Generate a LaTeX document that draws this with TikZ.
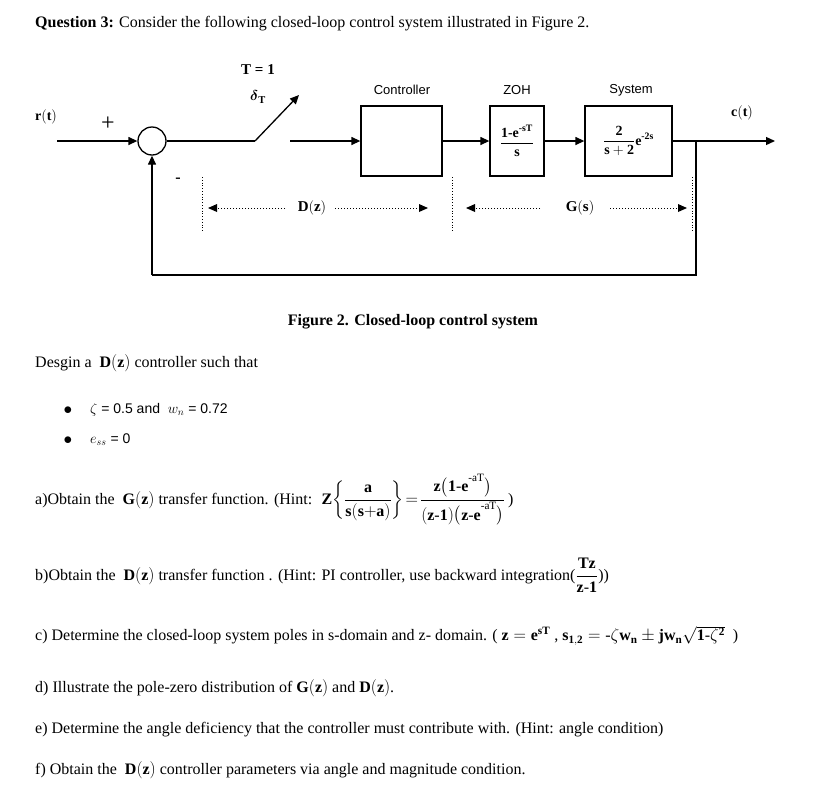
\documentclass[tikz,border=0pt]{standalone}
\usepackage{fontspec}
\usepackage{amsmath,amssymb}
\setmainfont{Liberation Serif}
\newfontfamily\sansf{Liberation Sans}
\usetikzlibrary{arrows.meta}
\begin{document}
\begin{tikzpicture}[x=1pt,y=-1pt,
  ln/.style={line width=1.3pt},
  arr/.style={ln,-{Triangle[length=9pt,width=8pt]}},
  blk/.style={draw,line width=1.3pt,minimum width=#1,minimum height=70pt,inner sep=0pt},
  dot/.style={dotted,line width=0.8pt},
  darr/.style={dotted,line width=1pt,-{Triangle[length=9pt,width=8pt,line width=0pt,fill=black]}},
  lab/.style={font=\sansf\fontsize{13}{15}\selectfont},
  tx/.style={anchor=west,inner sep=0pt,font=\fontsize{16}{18}\selectfont}]
\useasboundingbox (0,0) rectangle (831,801);
\node[tx] (q) at (35,24) {\textbf{Question 3:} Consider the following closed-loop control system illustrated in Figure 2.};
% diagram
\coordinate (rin) at (57,141);
\node[draw,circle,line width=1.3pt,minimum size=28pt,inner sep=0pt] (sum) at (152,141) {};
\node[font=\bfseries\fontsize{14}{16}\selectfont] (rt) at (46,117) {r$(\mathbf t)$};
\node[font=\fontsize{24}{24}\selectfont] (plus) at (108,124) {+};
\node[font=\bfseries\fontsize{16}{16}\selectfont] (minus) at (178,180) {-};
\draw[arr] (rin) -- (sum);
\coordinate (s1) at (255,141);
\coordinate (s2) at (299,95);
\draw[ln] (sum) -- (s1);
\draw[arr] (s1) -- (s2);
\node[font=\bfseries\fontsize{15}{16}\selectfont] (T1) at (258,70) {T = 1};
\node[font=\bfseries\fontsize{15}{16}\selectfont] (dT) at (258,97) {$\boldsymbol\delta_{\mathbf T}$};
\coordinate (s3) at (290,141);
\node[blk=81pt] (ctl) at (401.5,141) {};
\node[blk=54pt] (zoh) at (517,141) {\bfseries\fontsize{14}{15}\selectfont$\dfrac{\mathbf{1\text{-}e}^{\text{-sT}}}{\mathbf s}$};
\node[blk=87pt] (sys) at (628.5,141) {\bfseries\fontsize{14}{15}\selectfont$\dfrac{\mathbf 2}{\mathbf{s+2}}\mathbf e^{\text{-2s}}$};
\node[lab] (lc) at (402,90) {Controller};
\node[lab] (lz) at (517,90) {ZOH};
\node[lab] (ls) at (631,90) {System};
\draw[arr] (s3) -- (ctl);
\draw[arr] (ctl) -- (zoh);
\draw[arr] (zoh) -- (sys);
\coordinate (out) at (775,141);
\coordinate (br) at (696,141);
\coordinate (b1) at (696,275);
\coordinate (b2) at (152,275);
\draw[arr] (sys) -- (out);
\node[font=\bfseries\fontsize{14}{16}\selectfont] (ct) at (742,113) {c$(\mathbf t)$};
\draw[ln] (br) -- (b1) -- (b2);
\draw[arr] (b2) -- (sum);
% dotted markers
\coordinate (v1a) at (202,177); \coordinate (v1b) at (202,232);
\coordinate (v2a) at (452,177); \coordinate (v2b) at (452,232);
\coordinate (v3a) at (692,177); \coordinate (v3b) at (692,232);
\draw[dot] (v1a) -- (v1b); \draw[dot] (v2a) -- (v2b); \draw[dot] (v3a) -- (v3b);
\node[font=\bfseries\fontsize{15}{16}\selectfont] (Dz) at (312,208) {D$(\mathbf z)$};
\node[font=\bfseries\fontsize{15}{16}\selectfont] (Gs) at (580,208) {G$(\mathbf s)$};
\coordinate (d1) at (208,208); \coordinate (d2) at (285,208);
\coordinate (d3) at (335,208); \coordinate (d4) at (428,208);
\coordinate (g1) at (466,208); \coordinate (g2) at (540,208);
\coordinate (g3) at (610,208); \coordinate (g4) at (687,208);
\draw[darr] (d2) -- (d1); \draw[darr] (d3) -- (d4);
\draw[darr] (g2) -- (g1); \draw[darr] (g3) -- (g4);
\node[font=\bfseries\fontsize{16}{18}\selectfont] (cap) at (413,322) {Figure 2. Closed-loop control system};
% text
\node[tx] (t1) at (35,363) {Desgin a \ $\mathbf{D(z)}$ controller such that};
\node[font=\fontsize{16}{16}\selectfont] (bu1) at (68,411) {$\bullet$};
\node[font=\fontsize{16}{16}\selectfont] (bu2) at (68,441) {$\bullet$};
\node[tx,font=\sansf\fontsize{14}{16}\selectfont] (c1) at (90,410) {$\zeta$ = 0.5 and \ $w_n$ = 0.72};
\node[tx,font=\sansf\fontsize{14}{16}\selectfont] (c2) at (90,440) {$e_{ss}$ = 0};
\node[tx] (ta) at (35,500) {a)Obtain the \ $\mathbf{G(z)}$ transfer function. (Hint: \ $\mathbf Z\!\left\{\dfrac{\mathbf a}{\mathbf{s(s{+}a)}}\right\}\!=\!\dfrac{\mathbf{z\big(1\text{-}e}^{\text{-aT}}\mathbf{\big)}}{\mathbf{(z\text{-}1)\big(z\text{-}e}^{\text{-aT}}\mathbf{\big)}}\,$)};
\node[tx] (tb) at (35,575) {b)Obtain the \ $\mathbf{D(z)}$ transfer function . (Hint: PI controller, use backward integration($\dfrac{\mathbf{Tz}}{\mathbf{z\text{-}1}}$))};
\node[tx] (tc) at (35,636) {c) Determine the closed-loop system poles in s-domain and z- domain. ( $\mathbf{z = e^{sT}}$ , $\mathbf{s_{1,2}} = \mathbf{\text{-}\zeta w_n \pm j w_n\sqrt{1\text{-}\zeta^2}}$ \ )};
\node[tx] (td) at (35,688) {d) Illustrate the pole-zero distribution of $\mathbf{G(z)}$ and $\mathbf{D(z)}$.};
\node[tx] (te) at (35,730) {e) Determine the angle deficiency that the controller must contribute with. (Hint: angle condition)};
\node[tx] (tf) at (35,770) {f) Obtain the \ $\mathbf{D(z)}$ controller parameters via angle and magnitude condition.};
\end{tikzpicture}
\end{document}
